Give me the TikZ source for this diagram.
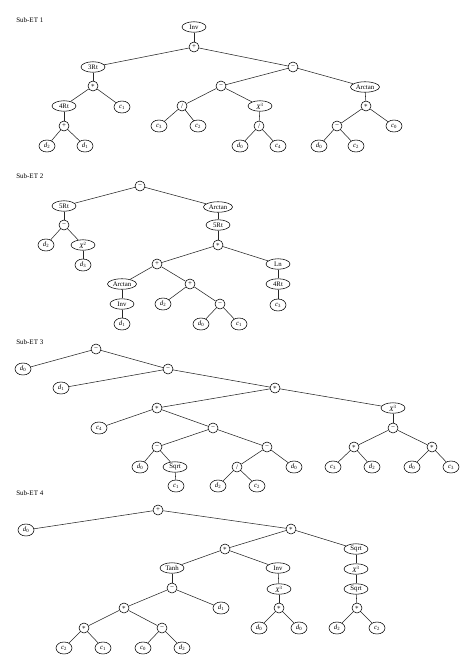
\documentclass[tikz,border=0pt]{standalone}
\usepackage{fontspec}
\setmainfont{Liberation Serif}
\usetikzlibrary{shapes.geometric}
\tikzset{
  every node/.style={text=black},
  op/.style={circle,draw,inner sep=0pt,minimum size=10pt,font=\fontsize{7}{7}\selectfont},
  lf/.style={ellipse,draw,inner sep=0pt,minimum width=16pt,minimum height=12pt,font=\fontsize{6.8}{6.8}\selectfont},
  fn/.style={ellipse,draw,inner xsep=1pt,inner ysep=0.3pt,minimum width=24pt,minimum height=10.5pt,font=\fontsize{6.8}{6.8}\selectfont},
  ttl/.style={anchor=west,inner sep=0pt,font=\fontsize{7}{7}\selectfont},
  edge/.style={draw=black!85,line width=0.55pt}
}
\newcommand{\dd}[1]{{\itshape d}\textsubscript{#1}}
\newcommand{\cc}[1]{{\itshape c}\textsubscript{#1}}
\newcommand{\xx}[1]{{\itshape X}\textsuperscript{#1}}
\newcommand{\mul}{$\ast$}
\newcommand{\mn}{−}
\begin{document}
\begin{tikzpicture}[x=1pt,y=-1pt,line width=0.55pt]
\useasboundingbox (0,0) rectangle (474,672);
% ---------- Sub-ET 1
\node[ttl] (t1) at (16,20) {Sub-ET 1};
\node[fn] (a1) at (194,27) {Inv};
\node[op] (a2) at (194,47) {+};
\node[fn] (a3) at (93,67) {3Rt};
\node[op] (a4) at (293,67) {\mn};
\node[op] (a5) at (93,86) {\mul};
\node[op] (a6) at (221,86) {\mn};
\node[fn] (a7) at (365,87) {Arctan};
\node[fn] (a8) at (64,106) {4Rt};
\node[lf] (a9) at (122,107) {\cc{1}};
\node[op] (a10) at (182,106) {/};
\node[fn] (a11) at (260,106) {\xx{3}};
\node[op] (a12) at (366,106) {\mul};
\node[op] (a13) at (64,126) {+};
\node[lf] (a14) at (159,126) {\cc{3}};
\node[lf] (a15) at (198,126) {\cc{2}};
\node[op] (a16) at (259,126) {/};
\node[op] (a17) at (337,126) {\mn};
\node[lf] (a18) at (394,126) {\cc{0}};
\node[lf] (a19) at (47,146) {\dd{2}};
\node[lf] (a20) at (85,146) {\dd{1}};
\node[lf] (a21) at (240,146) {\dd{0}};
\node[lf] (a22) at (278,146) {\cc{4}};
\node[lf] (a23) at (319,146) {\dd{0}};
\node[lf] (a24) at (356,146) {\cc{2}};
\foreach \u/\v in {a1/a2,a2/a3,a2/a4,a3/a5,a5/a8,a5/a9,a8/a13,a13/a19,a13/a20,a4/a6,a4/a7,a6/a10,a6/a11,a10/a14,a10/a15,a11/a16,a16/a21,a16/a22,a7/a12,a12/a17,a12/a18,a17/a23,a17/a24}
  \draw[edge] (\u) -- (\v);
% ---------- Sub-ET 2
\node[ttl] (t2) at (16,176) {Sub-ET 2};
\node[op] (b1) at (140,186) {\mn};
\node[fn] (b2) at (64,206) {5Rt};
\node[fn] (b3) at (218,207) {Arctan};
\node[op] (b4) at (64,225) {\mn};
\node[fn] (b5) at (218,225) {5Rt};
\node[lf] (b6) at (46,245) {\dd{2}};
\node[fn] (b7) at (83,245) {\xx{2}};
\node[op] (b8) at (218,245) {\mul};
\node[lf] (b9) at (83,265) {\dd{3}};
\node[op] (b10) at (157,264) {+};
\node[fn] (b11) at (278,264) {Ln};
\node[fn] (b12) at (122,284) {Arctan};
\node[op] (b13) at (190,284) {+};
\node[fn] (b14) at (278,284) {4Rt};
\node[fn] (b15) at (122,304) {Inv};
\node[lf] (b16) at (163,304) {\dd{2}};
\node[op] (b17) at (220,304) {\mn};
\node[lf] (b18) at (278,305) {\cc{3}};
\node[lf] (b19) at (122,324) {\dd{1}};
\node[lf] (b20) at (201,324) {\dd{0}};
\node[lf] (b21) at (239,324) {\cc{1}};
\foreach \u/\v in {b1/b2,b1/b3,b2/b4,b4/b6,b4/b7,b7/b9,b3/b5,b5/b8,b8/b10,b8/b11,b10/b12,b10/b13,b12/b15,b15/b19,b13/b16,b13/b17,b17/b20,b17/b21,b11/b14,b14/b18}
  \draw[edge] (\u) -- (\v);
% ---------- Sub-ET 3
\node[ttl] (t3) at (16,342) {Sub-ET 3};
\node[op] (c1) at (96,349) {\mn};
\node[lf] (c2) at (23,369) {\dd{0}};
\node[op] (c3) at (168,369) {\mn};
\node[lf] (c4) at (61,388) {\dd{1}};
\node[op] (c5) at (275,388) {\mul};
\node[op] (c6) at (157,408) {\mul};
\node[fn] (c7) at (393,408) {\xx{3}};
\node[lf] (c8) at (99,428) {\cc{4}};
\node[op] (c9) at (213,428) {\mn};
\node[op] (c10) at (393,428) {\mn};
\node[op] (c11) at (157,447) {\mn};
\node[op] (c12) at (267,447) {\mn};
\node[op] (c13) at (354,447) {\mul};
\node[op] (c14) at (432,447) {\mul};
\node[lf] (c15) at (140,467) {\dd{0}};
\node[fn] (c16) at (175,467) {Sqrt};
\node[op] (c17) at (237,467) {/};
\node[lf] (c18) at (294,467) {\dd{0}};
\node[lf] (c19) at (333,467) {\cc{3}};
\node[lf] (c20) at (372,467) {\dd{2}};
\node[lf] (c21) at (412,467) {\dd{0}};
\node[lf] (c22) at (451,467) {\cc{3}};
\node[lf] (c23) at (176,486) {\cc{1}};
\node[lf] (c24) at (218,486) {\dd{2}};
\node[lf] (c25) at (257,486) {\cc{2}};
\foreach \u/\v in {c1/c2,c1/c3,c3/c4,c3/c5,c5/c6,c5/c7,c6/c8,c6/c9,c9/c11,c9/c12,c11/c15,c11/c16,c16/c23,c12/c17,c12/c18,c17/c24,c17/c25,c7/c10,c10/c13,c10/c14,c13/c19,c13/c20,c14/c21,c14/c22}
  \draw[edge] (\u) -- (\v);
% ---------- Sub-ET 4
\node[ttl] (t4) at (16,493) {Sub-ET 4};
\node[op] (e1) at (158,510) {+};
\node[lf] (e2) at (26,530) {\dd{0}};
\node[op] (e3) at (291,529) {\mul};
\node[op] (e4) at (225,549) {\mul};
\node[fn] (e5) at (356,549) {Sqrt};
\node[fn] (e6) at (172,568) {Tanh};
\node[fn] (e7) at (278,568) {Inv};
\node[fn] (e8) at (356,569) {\xx{3}};
\node[op] (e9) at (172,588) {\mn};
\node[fn] (e10) at (279,589) {\xx{3}};
\node[fn] (e11) at (356,589) {Sqrt};
\node[op] (e12) at (124,608) {\mul};
\node[lf] (e13) at (221,608) {\dd{1}};
\node[op] (e14) at (279,608) {\mul};
\node[op] (e15) at (357,608) {\mul};
\node[op] (e16) at (84,628) {\mul};
\node[op] (e17) at (162,628) {\mn};
\node[lf] (e18) at (259,628) {\dd{0}};
\node[lf] (e19) at (299,628) {\dd{0}};
\node[lf] (e20) at (337,628) {\dd{2}};
\node[lf] (e21) at (377,628) {\cc{2}};
\node[lf] (e22) at (64,648) {\cc{2}};
\node[lf] (e23) at (103,648) {\cc{1}};
\node[lf] (e24) at (143,648) {\cc{0}};
\node[lf] (e25) at (182,648) {\dd{2}};
\foreach \u/\v in {e1/e2,e1/e3,e3/e4,e3/e5,e4/e6,e4/e7,e6/e9,e9/e12,e9/e13,e12/e16,e12/e17,e16/e22,e16/e23,e17/e24,e17/e25,e7/e10,e10/e14,e14/e18,e14/e19,e5/e8,e8/e11,e11/e15,e15/e20,e15/e21}
  \draw[edge] (\u) -- (\v);
\end{tikzpicture}
\end{document}
